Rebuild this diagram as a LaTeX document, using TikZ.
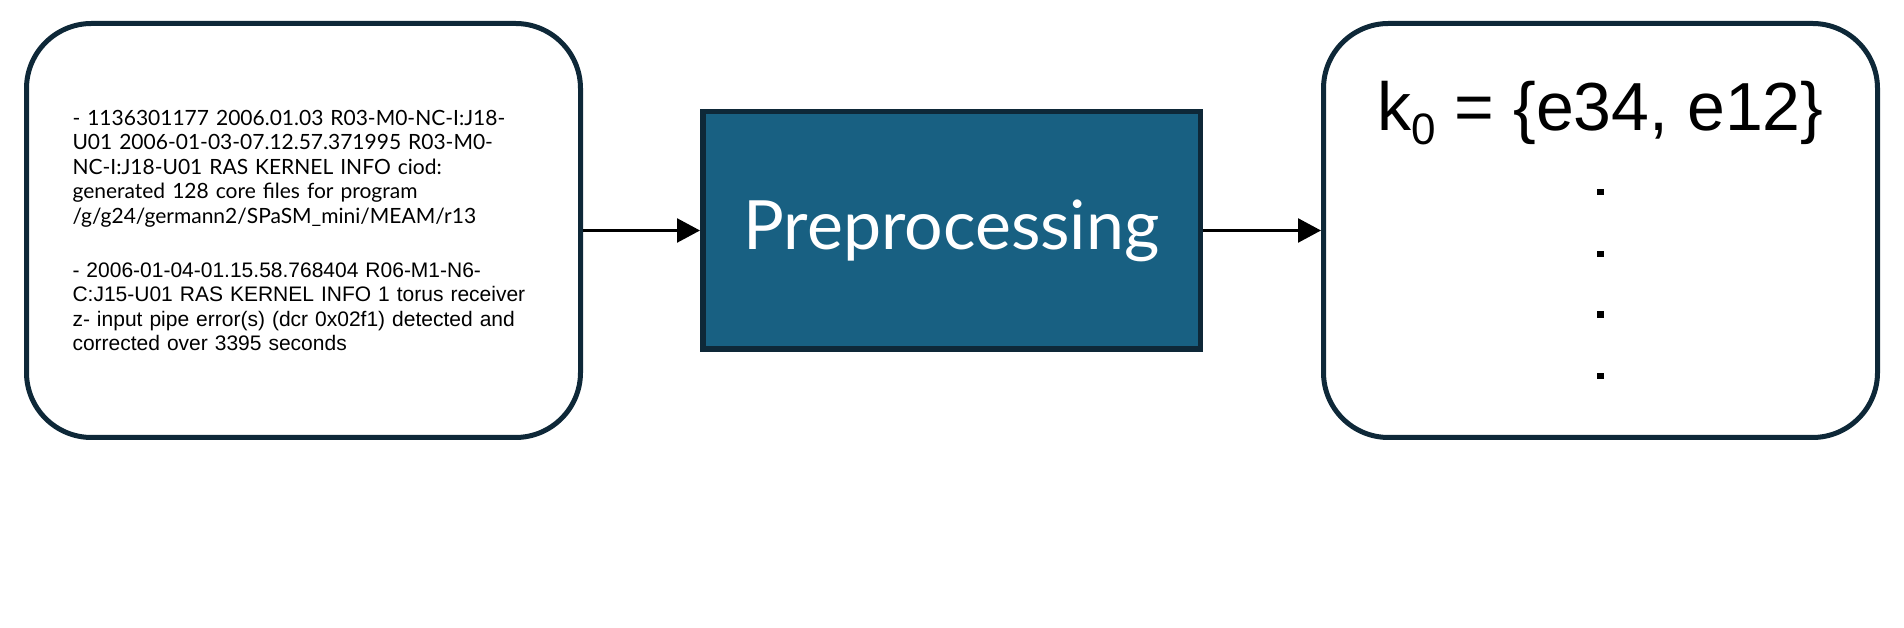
\documentclass[tikz,border=0pt]{standalone}
\usepackage{fontspec}
\setmainfont{Liberation Sans}
\newfontfamily\latofont{Lato}
\usetikzlibrary{positioning,shapes,arrows,arrows.meta}

\definecolor{frameblue}{HTML}{0E2838}
\definecolor{stageblue}{HTML}{186082}

\begin{document}
\begin{tikzpicture}[x=1pt,y=1pt,->,>={Triangle[length=23pt,width=24pt]},line width=2.5pt,node distance=117pt,
    roundbox/.style={draw=frameblue,line width=5pt,rounded corners=65pt,minimum width=554pt,minimum height=414pt},
    stagebox/.style={draw=frameblue,fill=stageblue,line width=5.5pt,minimum width=497.5pt,minimum height=237.5pt,text=white,font=\latofont\fontsize{68}{80}\selectfont},
    dotmark/.style={fill=black,minimum size=6.5pt,inner sep=0pt}]
    \useasboundingbox (0,0) rectangle (1904,628);
    % raw log lines -> Preprocessing -> key sets
    \node[roundbox,text width=462pt,align=left,font=\fontsize{21}{24.6}\selectfont] (logs) at (303.5,397.5)
        {\latofont - 1136301177 2006.01.03 R03-M0-NC-I:J18-\\
         U01 2006-01-03-07.12.57.371995 R03-M0-\\
         NC-I:J18-U01 RAS KERNEL INFO ciod:\\
         generated 128 core files for program\\
         /g/g24/germann2/SPaSM\_mini/MEAM/r13\\[29pt]
         \rmfamily - 2006-01-04-01.15.58.768404 R06-M1-N6-\\
         C:J15-U01 RAS KERNEL INFO 1 torus receiver\\
         z- input pipe error(s) (dcr 0x02f1) detected and\\
         corrected over 3395 seconds};
    \node[stagebox,right=117pt of logs] (stage) {Preprocessing};
    \node[roundbox,right=118pt of stage] (keys) {};

    \node[anchor=base,font=\fontsize{68}{80}\selectfont] (kset) at ([yshift=-110pt]keys.north)
        {k\raisebox{-14pt}{\fontsize{44}{44}\selectfont 0} = \{e34, e12\}};
    \node[dotmark] (dot1) at ([yshift=-171pt]keys.north) {};
    \node[dotmark] (dot2) at ([yshift=-233pt]keys.north) {};
    \node[dotmark] (dot3) at ([yshift=-293.5pt]keys.north) {};
    \node[dotmark] (dot4) at ([yshift=-355pt]keys.north) {};

    \draw[->] (logs) -- (stage);
    \draw[->] (stage) -- (keys);
\end{tikzpicture}
\end{document}
